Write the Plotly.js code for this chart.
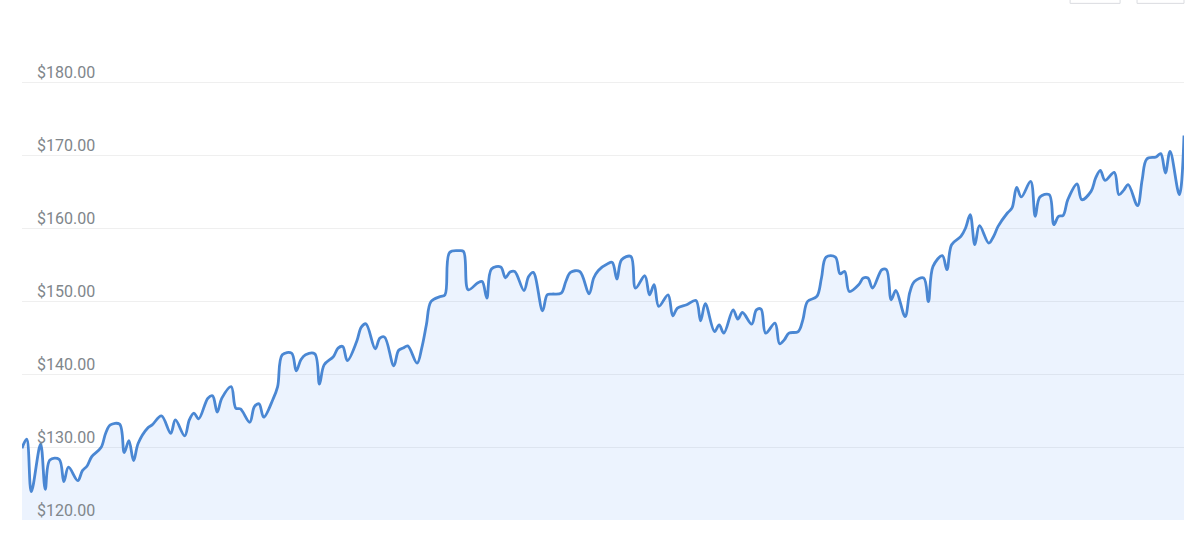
<!DOCTYPE html>
<html>
<head>
<meta charset="utf-8">
<script src="https://cdn.plot.ly/plotly-3.0.1.min.js"></script>
<style>
  html, body { margin: 0; padding: 0; background: #fff; }
  #chart { width: 1200px; height: 533px; }
</style>
</head>
<body>
<div id="chart"></div>
<script>
(function () {

	'use strict';

	// trading day (x) of each turning point
	const tradingDay = [
		0, 1, 2, 4, 5, 6, 8, 9, 10, 12, 13, 14, 15, 17, 18, 19, 21, 22, 23, 24,
		25, 27, 28, 30, 32, 33, 35, 36, 37, 38, 40, 41, 42, 43, 45, 46, 47, 49, 50, 51,
		52, 54, 55, 56, 58, 59, 60, 61, 63, 64, 65, 67, 68, 69, 70, 72, 73, 74, 76, 77,
		78, 80, 81, 82, 83, 85, 86, 87, 88, 90, 91, 92, 94, 95, 96, 98, 99, 100, 101, 103,
		104, 105, 106, 108, 109, 110, 112, 113, 114, 116, 117, 118, 120, 122, 123, 124, 126, 127, 128, 129,
		131, 132, 134, 135, 136, 137, 139, 140, 141, 143, 145, 146, 147, 149, 150, 151, 153, 154, 155, 157,
		158, 159, 160, 162, 163, 164, 165, 167, 168, 169, 171, 172, 173, 175, 176, 177, 178, 180, 181, 182,
		183, 185, 186, 187, 188, 190, 191, 192, 194, 195, 196, 198, 199, 200, 202, 203, 204, 205, 206, 208,
		209, 210, 212, 213, 214, 215, 217, 218, 219, 221, 222, 223, 224, 225, 227, 228, 230, 231, 232, 233,
		235, 236, 237, 238, 240, 241, 242, 244, 245, 246, 247, 249, 250
	];

	// closing price ($) on those days
	const closePrice = [
		129.85, 131.08, 123.89, 130.39, 124.22, 128.24, 128.33, 125.26, 127.24, 125.40,
		126.77, 127.41, 128.69, 129.93, 131.90, 133.04, 133.14, 129.24, 130.89, 128.14,
		130.53, 132.59, 133.04, 134.28, 131.90, 133.73, 131.53, 133.73, 134.65, 133.87,
		136.71, 137.03, 134.79, 136.71, 138.30, 135.34, 135.24, 133.41, 135.56, 135.93,
		134.10, 136.57, 138.30, 142.66, 142.89, 140.46, 141.97, 142.66, 142.79, 138.63,
		141.28, 142.42, 143.58, 143.80, 141.87, 144.48, 146.46, 146.91, 143.48, 144.95,
		145.09, 141.15, 143.25, 143.58, 143.89, 141.52, 143.58, 146.77, 149.97, 150.66,
		150.89, 156.70, 156.94, 156.84, 151.58, 152.50, 152.72, 150.44, 154.42, 154.70,
		153.23, 154.01, 154.09, 151.48, 153.41, 153.96, 148.70, 150.89, 150.99, 151.13,
		152.72, 153.96, 154.09, 151.03, 153.19, 154.23, 155.15, 155.33, 153.05, 155.70,
		156.15, 151.81, 153.50, 150.89, 152.27, 149.29, 150.89, 148.01, 149.07, 149.52,
		150.11, 147.32, 149.66, 145.85, 146.77, 145.63, 148.83, 147.56, 148.46, 146.87,
		148.83, 148.93, 145.63, 147.01, 144.17, 144.71, 145.63, 145.85, 147.46, 149.97,
		150.66, 153.19, 156.07, 156.07, 153.78, 154.09, 151.35, 152.27, 153.19, 153.19,
		151.81, 154.33, 154.33, 150.21, 151.48, 147.91, 151.21, 152.72, 153.19, 149.97,
		154.78, 156.25, 154.33, 157.76, 158.90, 160.05, 161.88, 157.76, 160.37, 157.99,
		158.86, 160.27, 162.11, 162.80, 165.63, 164.31, 166.45, 161.65, 164.31, 164.62,
		160.51, 161.65, 161.78, 163.94, 166.09, 163.94, 165.08, 166.92, 167.96, 166.59,
		167.69, 164.62, 165.21, 166.00, 163.11, 166.68, 169.53, 169.80, 170.25, 167.60,
		170.57, 164.62, 172.73
	];

	// y axis ticks
	const priceTicks = [120, 130, 140, 150, 160, 170, 180];

	const trace = {
		x: tradingDay,
		y: closePrice,
		type: 'scatter',
		mode: 'lines',
		fill: 'tozeroy',
		fillcolor: 'rgba(66,133,244,0.1)',
		line: { color: '#4a87d3', width: 2.8, shape: 'spline', smoothing: 1 },
		hovertemplate: '$%{y:.2f}<extra></extra>'
	};

	// the two cut-off buttons at the top right
	const buttonBox = ( x0, x1 ) => ({
		type: 'rect',
		xref: 'paper', yref: 'paper',
		x0, x1, y0: 1.143, y1: 1.25,
		line: { color: '#dadce0', width: 1 },
		fillcolor: 'rgba(0,0,0,0)'
	});

	const layout = {
		width: 1200,
		height: 533,
		margin: { l: 22, r: 16, t: 68, b: 13 },
		paper_bgcolor: '#ffffff',
		plot_bgcolor: '#ffffff',
		showlegend: false,
		font: { family: 'Roboto, Arial, sans-serif', color: '#80868b', size: 16 },
		xaxis: {
			range: [0, 250],
			showgrid: false,
			zeroline: false,
			showline: false,
			showticklabels: false,
			ticks: ''
		},
		yaxis: {
			range: [120, 182],
			tickmode: 'array',
			tickvals: priceTicks,
			tickformat: '$.2f',
			ticklabelposition: 'inside',
			ticklabelshift: -10,
			ticklabelstandoff: 12,
			ticklabeloverflow: 'allow',
			tickfont: { size: 16, color: '#80868b' },
			showgrid: true,
			gridcolor: '#efefef',
			gridwidth: 1,
			zeroline: false,
			showline: false,
			ticks: ''
		},
		shapes: [ buttonBox(0.902, 0.945), buttonBox(0.9596, 1.0) ]
	};

	Plotly.newPlot('chart', [ trace ], layout, { displayModeBar: false, responsive: false });

})();
</script>
</body>
</html>
